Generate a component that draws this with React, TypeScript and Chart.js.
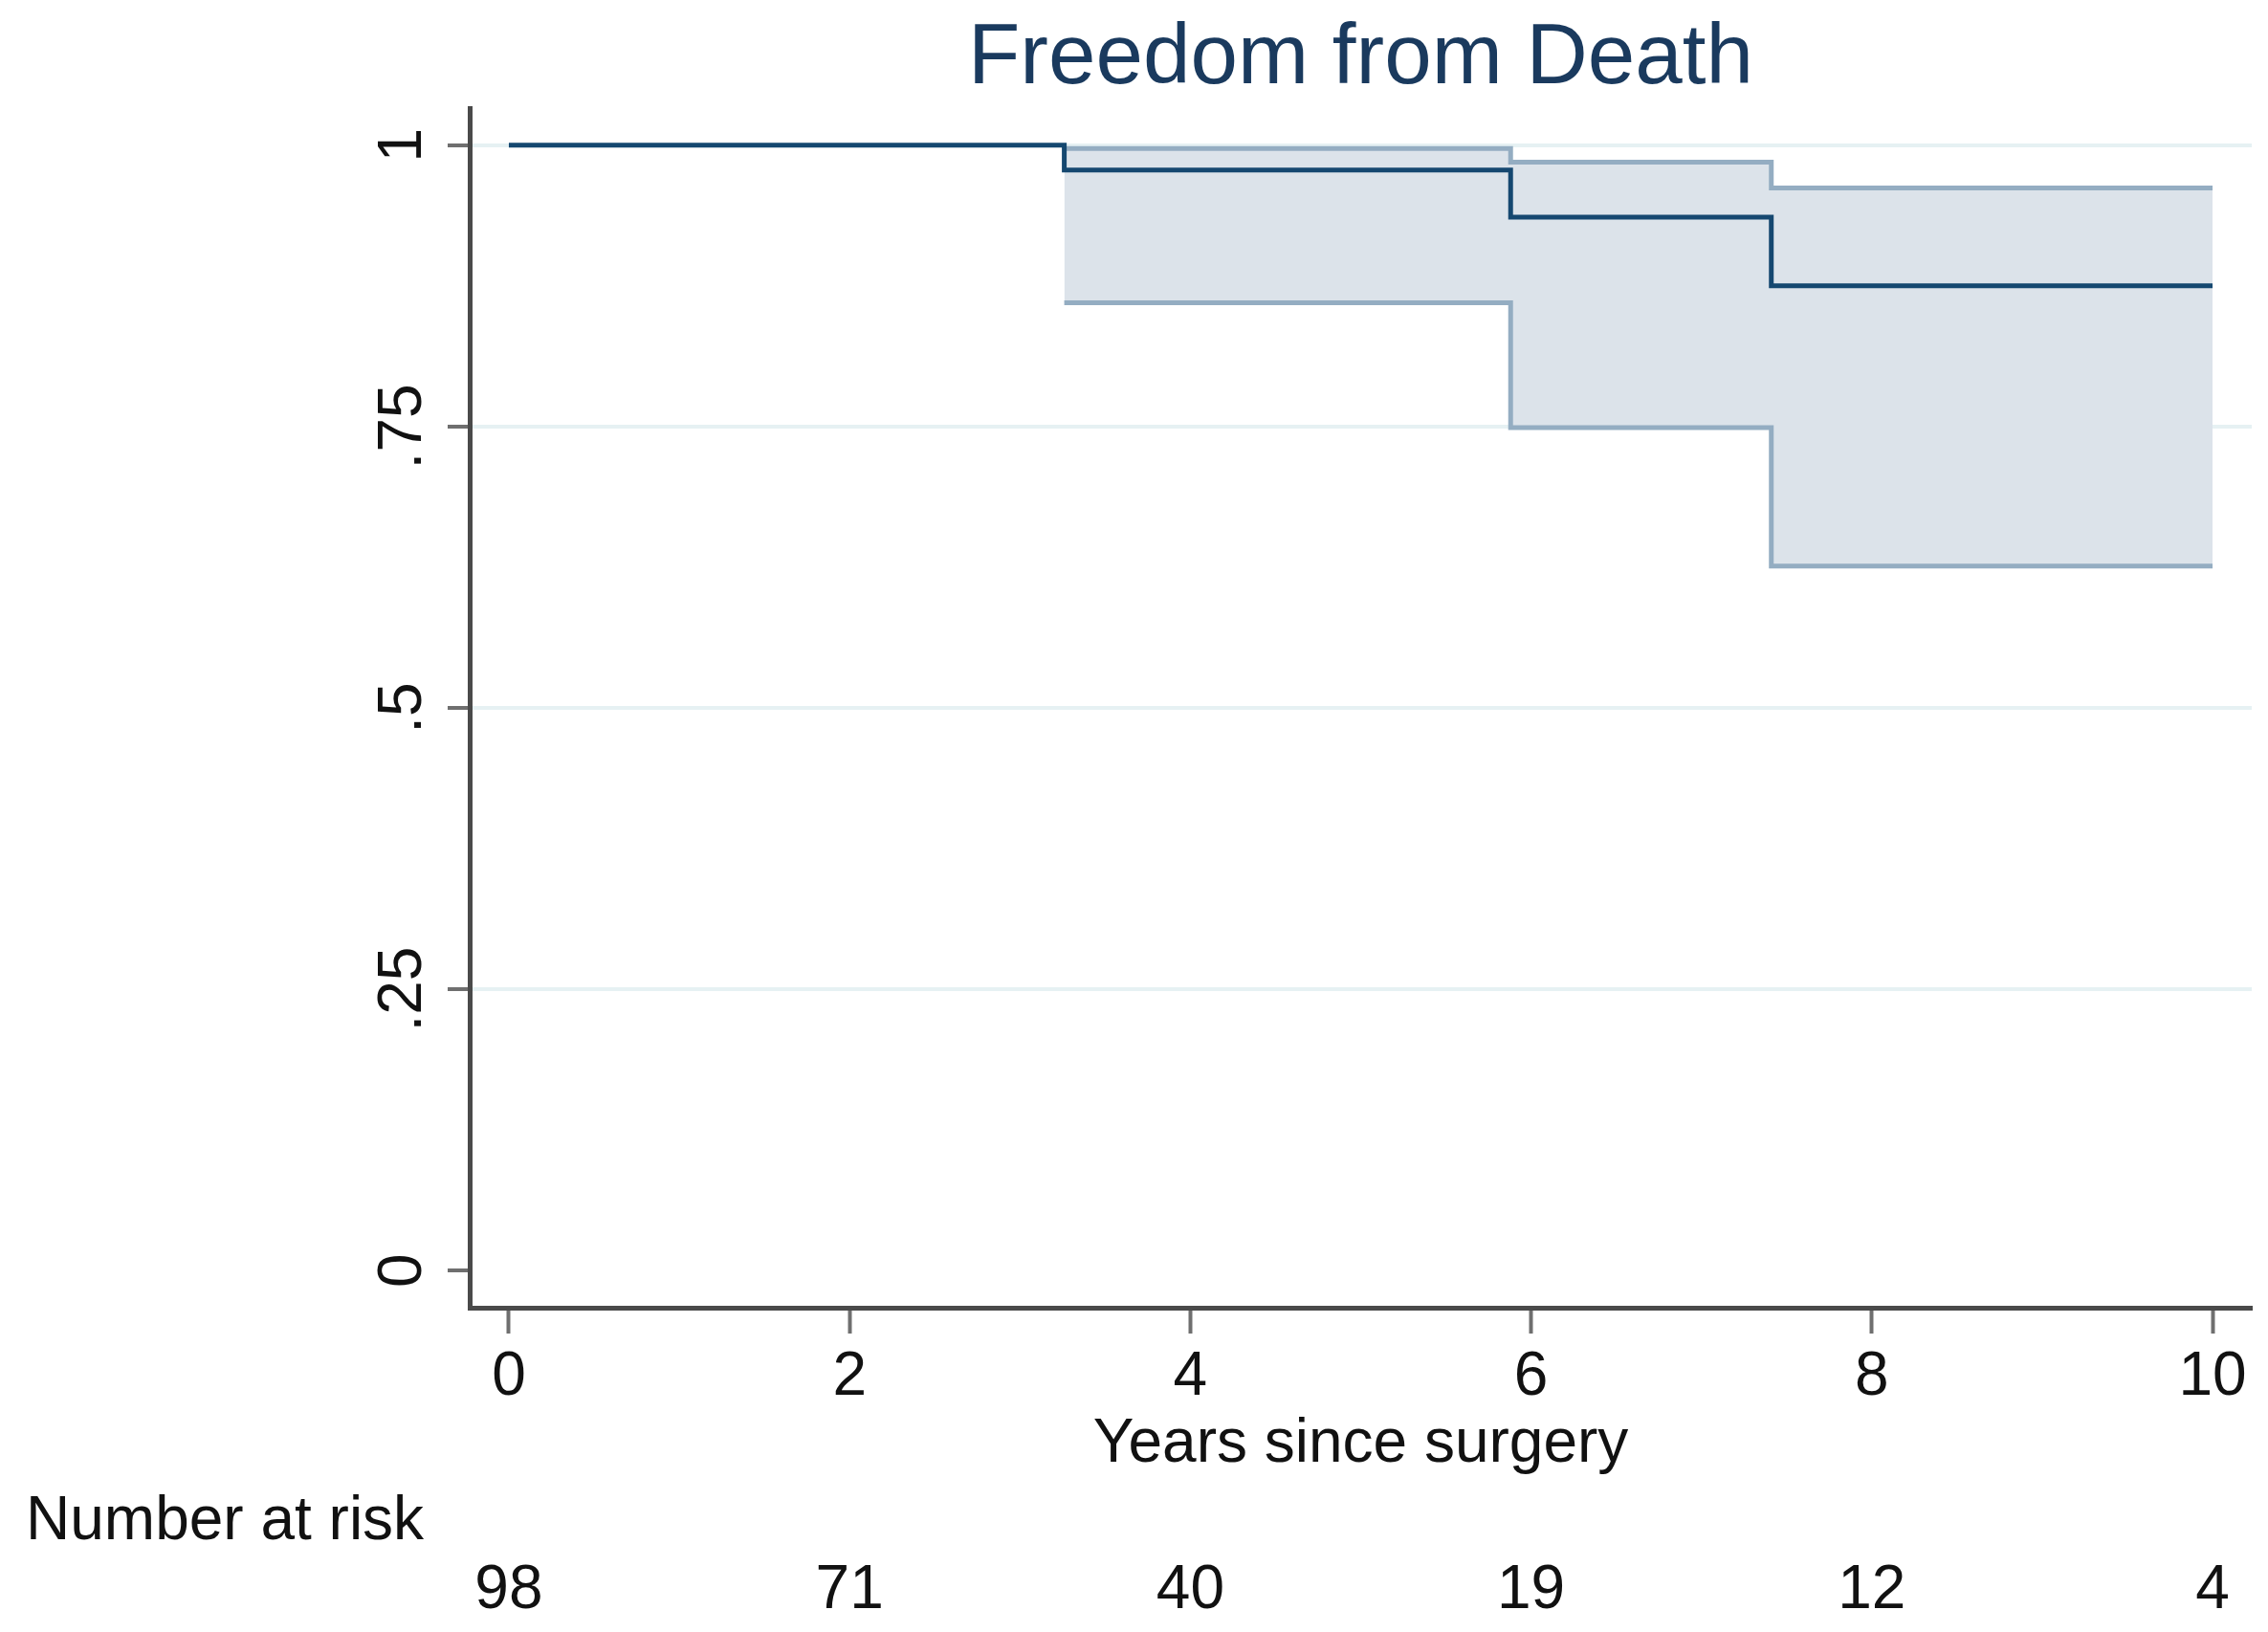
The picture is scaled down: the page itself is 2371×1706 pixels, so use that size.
import { useEffect, useRef } from 'react'
import { Chart, registerables } from 'chart.js'
import type { Chart as ChartJS, Plugin } from 'chart.js'

Chart.register(...registerables)

// Kaplan-Meier estimate
const eventTimes = [0, 3.26, 5.88, 7.41, 10]
const survival = [1, 0.978, 0.936, 0.875, 0.875]

// 95% confidence band (starts at first event)
const ciTimes = [3.26, 5.88, 7.41, 10]
const ciUpper = [0.997, 0.985, 0.962, 0.962]
const ciLower = [0.86, 0.749, 0.626, 0.626]

// axes
const xTicks = [0, 2, 4, 6, 8, 10]
const yTicks = [0, 0.25, 0.5, 0.75, 1]
const yTickLabels = ['0', '.25', '.5', '.75', '1']

// risk table
const riskTimes = [0, 2, 4, 6, 8, 10]
const numberAtRisk = [98, 71, 40, 19, 12, 4]

const TITLE = 'Freedom from Death'
const X_TITLE = 'Years since surgery'
const FONT = '"Liberation Sans", Arial, sans-serif'
const NAVY = '#154870'
const CI_LINE = '#94adc2'
const CI_FILL = '#dce3ea'
const GRID = '#e6f1f3'
const AXIS = '#4a4a4a'
const TICK = '#6f6f6f'
const TEXT = '#111111'

const textPlugin: Plugin<'line'> = {
  id: 'kmText',
  afterDraw(chart) {
    const { ctx, chartArea } = chart
    const xs = chart.scales.x
    const ys = chart.scales.y
    ctx.save()
    ctx.textBaseline = 'alphabetic'

    // title
    ctx.font = `89px ${FONT}`
    ctx.fillStyle = '#1a3a5e'
    ctx.textAlign = 'center'
    ctx.fillText(TITLE, (chartArea.left + chartArea.right) / 2, 87)

    // rotated y tick labels
    ctx.font = `64px ${FONT}`
    ctx.fillStyle = TEXT
    yTicks.forEach((v, i) => {
      ctx.save()
      ctx.translate(ys.right - 51, ys.getPixelForValue(v))
      ctx.rotate(-Math.PI / 2)
      ctx.fillText(yTickLabels[i], 0, 0)
      ctx.restore()
    })

    // number at risk
    ctx.textAlign = 'left'
    ctx.fillText('Number at risk', 27, 1609)
    ctx.textAlign = 'center'
    riskTimes.forEach((t, i) => {
      ctx.fillText(String(numberAtRisk[i]), xs.getPixelForValue(t), 1681)
    })
    ctx.restore()
  }
}

export default function App() {
  const canvasRef = useRef<HTMLCanvasElement>(null)
  const chartRef = useRef<ChartJS<'line'> | null>(null)

  useEffect(() => {
    if (!canvasRef.current) return
    if (chartRef.current) chartRef.current.destroy()

    chartRef.current = new Chart(canvasRef.current, {
      type: 'line',
      data: {
        datasets: [
          {
            label: 'Survival',
            data: eventTimes.map((t, i) => ({ x: t, y: survival[i] })),
            borderColor: NAVY,
            borderWidth: 5,
            stepped: true,
            pointRadius: 0,
            fill: false,
            order: 0
          },
          {
            label: 'Upper CI',
            data: ciTimes.map((t, i) => ({ x: t, y: ciUpper[i] })),
            borderColor: CI_LINE,
            borderWidth: 5,
            stepped: true,
            pointRadius: 0,
            fill: '+1',
            backgroundColor: CI_FILL,
            order: 1
          },
          {
            label: 'Lower CI',
            data: ciTimes.map((t, i) => ({ x: t, y: ciLower[i] })),
            borderColor: CI_LINE,
            borderWidth: 5,
            stepped: true,
            pointRadius: 0,
            fill: false,
            order: 2
          }
        ]
      },
      options: {
        responsive: false,
        animation: false,
        layout: { padding: { left: 0, right: 17, top: 113, bottom: 164 } },
        plugins: {
          legend: { display: false },
          tooltip: { enabled: false },
          title: { display: false },
          filler: { drawTime: 'beforeDatasetsDraw' }
        },
        scales: {
          x: {
            type: 'linear',
            min: -0.23,
            max: 10.23,
            afterBuildTicks: (scale) => {
              scale.ticks = xTicks.map((value) => ({ value }))
            },
            afterFit: (scale) => {
              scale.height = 175
            },
            ticks: {
              font: { family: FONT, size: 64 },
              color: TEXT,
              padding: 8,
              maxRotation: 0,
              callback: (v) => String(v)
            },
            grid: {
              drawOnChartArea: false,
              drawTicks: true,
              tickLength: 27,
              tickColor: TICK,
              tickWidth: 4
            },
            border: { color: AXIS, width: 5 },
            title: {
              display: true,
              text: X_TITLE,
              color: TEXT,
              font: { family: FONT, size: 64, lineHeight: 1 },
              padding: 0
            }
          },
          y: {
            type: 'linear',
            min: -0.033,
            max: 1.033,
            afterBuildTicks: (scale) => {
              scale.ticks = yTicks.map((value) => ({ value }))
            },
            afterFit: (scale) => {
              scale.width = 491
            },
            ticks: { display: false },
            grid: {
              color: (c) => (c.tick && c.tick.value === 0 ? 'rgba(0,0,0,0)' : GRID),
              lineWidth: 4,
              drawTicks: true,
              tickLength: 23,
              tickColor: TICK,
              tickWidth: 4
            },
            border: { color: AXIS, width: 5 }
          }
        }
      },
      plugins: [textPlugin]
    })

    return () => {
      if (chartRef.current) {
        chartRef.current.destroy()
        chartRef.current = null
      }
    }
  }, [])

  return (
    <div style={{ position: 'absolute', left: 0, top: 0, width: 2371, height: 1706, background: '#fff' }}>
      <canvas ref={canvasRef} width={2371} height={1706}></canvas>
    </div>
  )
}
